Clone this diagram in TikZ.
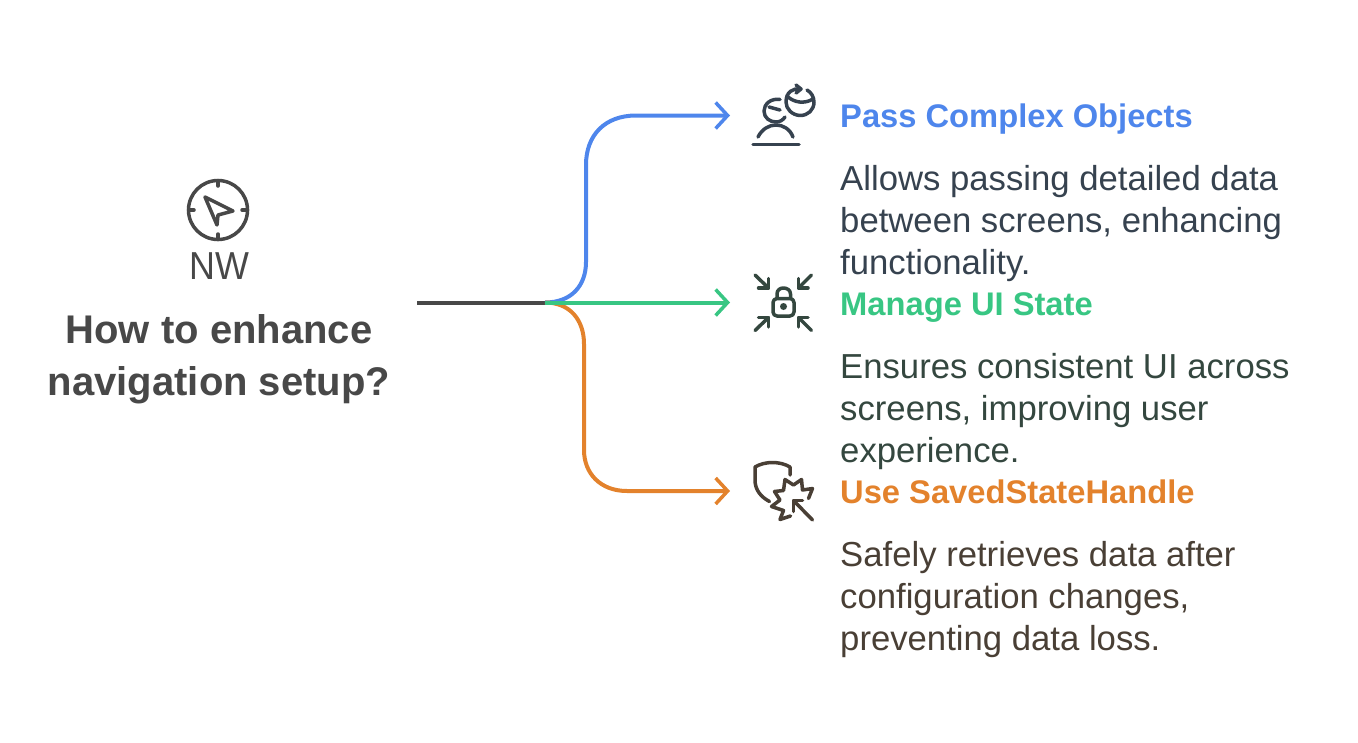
\documentclass[tikz,border=0pt]{standalone}
\usepackage{fontspec}
\usepackage{xcolor}
\setmainfont{Liberation Sans}
\usetikzlibrary{arrows.meta}

\definecolor{stemgray}{HTML}{484848}
\definecolor{passblue}{HTML}{4E86EC}
\definecolor{managegreen}{HTML}{38C683}
\definecolor{useorange}{HTML}{E3822C}
\definecolor{passdark}{HTML}{36424F}
\definecolor{managedark}{HTML}{34473F}
\definecolor{usedark}{HTML}{493F35}

\tikzset{
  branch/.style={line width=4pt, -{Straight Barb[length=12pt,width=26pt,line width=3.5pt]}},
  iconline/.style={line width=3.5pt, line cap=round, line join=round},
  headtext/.style={anchor=base west, inner sep=0pt, font=\fontsize{32.7}{40}\selectfont\bfseries},
  bodytext/.style={anchor=north west, inner sep=0pt, align=left, font=\fontsize{34.7}{42}\selectfont},
}

\begin{document}
\begin{tikzpicture}[x=1pt,y=-1pt]

\useasboundingbox (0,0) rectangle (1358,742);

\coordinate (stemstart) at (417,302.5);
\coordinate (hub) at (545,302.5);
\coordinate (passend) at (730,115.5);
\coordinate (manageend) at (730,302.5);
\coordinate (useend) at (730,491);

\draw [line width=4pt,color=stemgray] (stemstart) -- (hub);
\draw [branch,color=passblue] (hub) .. controls (572,302.5) and (586,285) .. (586,262) -- (586,165) .. controls (586,135) and (605,115.5) .. (636,115.5) -- (passend);
\draw [branch,color=useorange] (hub) .. controls (570,302.5) and (584,320) .. (584,344) -- (584,450) .. controls (584,473) and (600,491) .. (627,491) -- (useend);
\draw [branch,color=managegreen] (hub) -- (manageend);

\draw [iconline,color=stemgray] (218,210) circle (29.5);
\draw [iconline,color=stemgray] (218,180.5) -- (218,186);
\draw [iconline,color=stemgray] (218,234) -- (218,239.5);
\draw [iconline,color=stemgray] (188.5,210) -- (194,210);
\draw [iconline,color=stemgray] (242,210) -- (247.5,210);
\draw [iconline,color=stemgray] (205,197) -- (233,211) -- (218,215) -- (217,225) -- cycle;
\node (compasslabel) [anchor=base,inner sep=0pt,xscale=0.92,font=\fontsize{39}{40}\selectfont,color=stemgray] at (219,279) {NW};
\node (question) [anchor=north,inner sep=0pt,align=center,font=\fontsize{40}{52}\selectfont\bfseries,color=stemgray] at (219,314) {How to enhance\\navigation setup?};

\draw [iconline,color=passdark] (753,144.5) -- (799,144.5);
\draw [iconline,color=passdark] (758,137) .. controls (762,129) and (769,125) .. (776,125) .. controls (783,125) and (790,129) .. (793,137);
\draw [iconline,color=passdark] (780,99.5) .. controls (771,98) and (764,104) .. (764,111) .. controls (764,118) and (770,122) .. (776,122) .. controls (780,122) and (783,120) .. (785,117);
\draw [iconline,color=passdark] (769,107) -- (780,110);
\draw [iconline,color=passdark] (807,90) .. controls (811,92) and (814,97) .. (814,102) .. controls (814,110) and (808,115.5) .. (800,115.5) .. controls (792,115) and (786,109) .. (786,102) .. controls (786,92) and (793,88) .. (800,89);
\draw [iconline,color=passdark] (796,85) -- (801,89) -- (796,93);
\draw [iconline,color=passdark] (787,96) .. controls (794,103) and (805,104) .. (813,99);
\node (passhead) [headtext,color=passblue] at (840,127) {Pass Complex Objects};
\node (passbody) [bodytext,color=passdark] at (840,165) {Allows passing detailed data\\between screens, enhancing\\functionality.};

\draw [iconline,color=managedark,rounded corners=4pt] (773,298.5) rectangle (794,316);
\draw [iconline,color=managedark] (777,298) -- (777,294) .. controls (777,290) and (780,288) .. (783.5,288) .. controls (787,288) and (790.5,290) .. (790.5,294) -- (790.5,298);
\fill [color=managedark] (783.5,306.5) circle (3.5);
\draw [iconline,color=managedark] (755,275) -- (768.5,288);
\draw [iconline,color=managedark] (758.5,288) -- (768.5,288) -- (768.5,278.5);
\draw [iconline,color=managedark] (811.5,275) -- (798.5,288);
\draw [iconline,color=managedark] (808,288) -- (798.5,288) -- (798.5,278.5);
\draw [iconline,color=managedark] (755,330.5) -- (768.5,317.5);
\draw [iconline,color=managedark] (758.5,317.5) -- (768.5,317.5) -- (768.5,327);
\draw [iconline,color=managedark] (811.5,330.5) -- (798.5,317.5);
\draw [iconline,color=managedark] (808,317.5) -- (798.5,317.5) -- (798.5,327);
\node (managehead) [headtext,color=managegreen] at (840,315) {Manage UI State};
\node (managebody) [bodytext,color=managedark] at (840,353) {Ensures consistent UI across\\screens, improving user\\experience.};

\draw [iconline,color=usedark] (790,475) -- (790,467) .. controls (780,461) and (765,461) .. (755,467) -- (755,480) .. controls (755,490) and (761,497) .. (769.5,501.5);
\draw [iconline,color=usedark] (808.5,498.5) -- (812.5,488.5) -- (802.5,490) -- (801.5,479.5) -- (793.5,485) -- (785,479.5) -- (783.5,490.5) -- (774.5,491.5) -- (780,500) -- (771.5,506.5) -- (783.5,510.5) -- (780,519.5) -- (790.5,516);
\draw [iconline,color=usedark] (812.5,520) -- (793.5,500.5);
\draw [iconline,color=usedark] (793.5,511.5) -- (793.5,500.5) -- (802.5,500.5);
\node (usehead) [headtext,color=useorange] at (840,503) {Use SavedStateHandle};
\node (usebody) [bodytext,color=usedark] at (840,541) {Safely retrieves data after\\configuration changes,\\preventing data loss.};

\end{tikzpicture}
\end{document}
